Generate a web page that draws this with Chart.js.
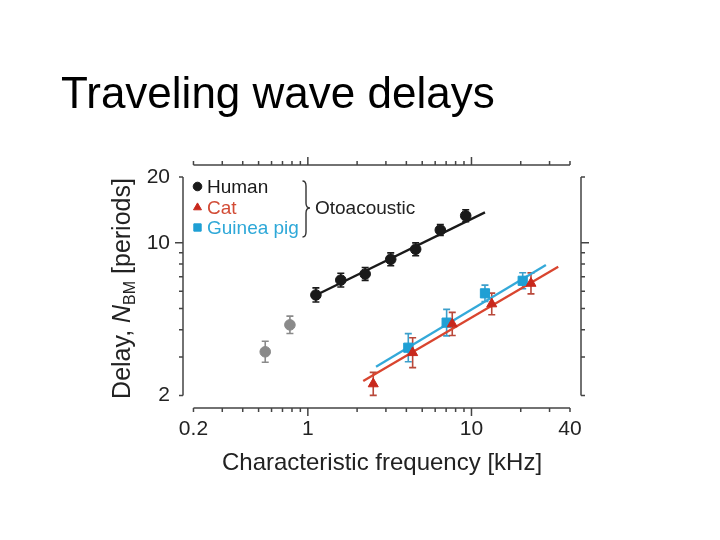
<!DOCTYPE html>
<html>
<head>
<meta charset="utf-8">
<script src="https://cdn.jsdelivr.net/npm/chart.js@4.4.1/dist/chart.umd.min.js"></script>
<style>
  html, body { margin: 0; padding: 0; background: #fff; }
  #wrap { position: relative; width: 720px; height: 540px; }
  #title {
    position: absolute; left: 61px; top: 71px; margin: 0;
    font: 44px/44px "Liberation Sans", Arial, sans-serif;
    color: #000; white-space: nowrap;
  }
  canvas { position: absolute; left: 0; top: 0; }
</style>
</head>
<body>
<div id="wrap">
  <canvas id="delayChart" width="720" height="540"></canvas>
  <div id="title">Traveling wave delays</div>
</div>
<script>
const FontName = '"Liberation Sans", Arial, sans-serif';

// Human (otoacoustic) points, kHz / periods, error = multiplicative half-width
const humanFreq = [1.12, 1.59, 2.24, 3.21, 4.56, 6.45, 9.22];
const humanDelay = [5.77, 6.75, 7.20, 8.40, 9.34, 11.44, 13.3];
const humanErr = [1.077, 1.075, 1.07, 1.07, 1.07, 1.06, 1.065];

// low-frequency human points (grey)
const lowFreq = [0.549, 0.777];
const lowDelay = [3.17, 4.21];
const lowErr = [1.117, 1.096];

const catFreq = [2.51, 4.37, 7.63, 13.3, 23.1];
const catDelay = [2.26, 3.14, 4.25, 5.25, 6.52];
const catErr = [1.129, 1.17, 1.13, 1.12, 1.117];

const pigFreq = [4.11, 7.05, 12.09, 20.56];
const pigDelay = [3.31, 4.31, 5.87, 6.70];
const pigErr = [1.16, 1.15, 1.09, 1.088];

// fitted lines (end points)
const humanFitFreq = [1.055, 12.09];
const humanFitDelay = [5.63, 13.78];
const catFitFreq = [2.18, 33.9];
const catFitDelay = [2.33, 7.77];
const pigFitFreq = [2.61, 28.5];
const pigFitDelay = [2.71, 7.91];

// axes
const xRange = [0.1726, 46.7];
const yRange = [1.753, 22.7];
const xLabelValues = [0.2, 1, 10, 40];
const yLabelValues = [2, 10, 20];
const xTickValues = [0.2, 0.3, 0.4, 0.5, 0.6, 0.7, 0.8, 0.9, 1, 2, 3, 4, 5, 6, 7, 8, 9, 10, 20, 30, 40];
const yTickValues = [2, 3, 4, 5, 6, 7, 8, 9, 10, 20];
const xMajor = [1, 10];
const yMajor = [10];

const Colors = {
    human: "#1a1a1a",
    low: "#8a8a8a",
    cat: "#c8281c",
    catLine: "#d9452f",
    catText: "#d24b35",
    pig: "#1f9fd4",
    pigLine: "#34a9d9",
    pigText: "#2ea8d8",
    axis: "#444",
    text: "#222",
};

const toPoints = (xs, ys) => xs.map((x, i) => ({ x, y: ys[i] }));

const drawErrorBars = (ctx, xs, ys, freq, delay, err, color) => {
    ctx.strokeStyle = color;
    ctx.lineWidth = 1.6;
    freq.forEach((f, i) => {
        const px = xs.getPixelForValue(f);
        const top = ys.getPixelForValue(delay[i] * err[i]);
        const bot = ys.getPixelForValue(delay[i] / err[i]);
        ctx.beginPath();
        ctx.moveTo(px, top); ctx.lineTo(px, bot);
        ctx.moveTo(px - 3.5, top); ctx.lineTo(px + 3.5, top);
        ctx.moveTo(px - 3.5, bot); ctx.lineTo(px + 3.5, bot);
        ctx.stroke();
    });
}

const errorBarPlugin = {
    id: "errorBars",
    beforeDatasetsDraw(chart) {
        const { ctx, scales: { x, y } } = chart;
        ctx.save();
        drawErrorBars(ctx, x, y, lowFreq, lowDelay, lowErr, Colors.low);
        drawErrorBars(ctx, x, y, humanFreq, humanDelay, humanErr, Colors.human);
        drawErrorBars(ctx, x, y, pigFreq, pigDelay, pigErr, "#3c9fcb");
        drawErrorBars(ctx, x, y, catFreq, catDelay, catErr, "#b9483a");
        ctx.restore();
    }
};

// axes drawn apart from each other, ticks pointing outward
const axesPlugin = {
    id: "detachedAxes",
    afterDraw(chart) {
        const { ctx, chartArea: area, scales: { x, y } } = chart;
        ctx.save();
        ctx.strokeStyle = Colors.axis;
        ctx.lineWidth = 1.5;
        ctx.beginPath();

        const x0 = x.getPixelForValue(xTickValues[0]);
        const x1 = x.getPixelForValue(xTickValues[xTickValues.length - 1]);
        const y0 = y.getPixelForValue(yTickValues[0]);
        const y1 = y.getPixelForValue(yTickValues[yTickValues.length - 1]);

        // bottom + top
        ctx.moveTo(x0, area.bottom); ctx.lineTo(x1, area.bottom);
        ctx.moveTo(x0, area.top); ctx.lineTo(x1, area.top);
        xTickValues.forEach(v => {
            const px = x.getPixelForValue(v);
            const len = xMajor.includes(v) ? 8 : 4;
            ctx.moveTo(px, area.bottom); ctx.lineTo(px, area.bottom + len);
            ctx.moveTo(px, area.top); ctx.lineTo(px, area.top - len);
        });

        // left + right
        ctx.moveTo(area.left, y0); ctx.lineTo(area.left, y1);
        ctx.moveTo(area.right, y0); ctx.lineTo(area.right, y1);
        yTickValues.forEach(v => {
            const py = y.getPixelForValue(v);
            const len = yMajor.includes(v) ? 8 : 4;
            ctx.moveTo(area.left, py); ctx.lineTo(area.left - len, py);
            ctx.moveTo(area.right, py); ctx.lineTo(area.right + len, py);
        });
        ctx.stroke();

        // y title with italic N and subscript
        const parts = [
            { text: "Delay, ", font: `25px ${FontName}`, dy: 0 },
            { text: "N", font: `italic 25px ${FontName}`, dy: 0 },
            { text: "BM", font: `16px ${FontName}`, dy: 5 },
            { text: " [periods]", font: `25px ${FontName}`, dy: 0 },
        ];
        let total = 0;
        parts.forEach(p => { ctx.font = p.font; p.w = ctx.measureText(p.text).width; total += p.w; });
        ctx.translate(130, (area.top + area.bottom) / 2 + 2);
        ctx.rotate(-Math.PI / 2);
        ctx.fillStyle = Colors.text;
        ctx.textBaseline = "alphabetic";
        let cx = -total / 2;
        parts.forEach(p => {
            ctx.font = p.font;
            ctx.fillText(p.text, cx, p.dy);
            cx += p.w;
        });
        ctx.restore();

        // legend
        ctx.save();
        const rows = [
            { label: "Human", style: "circle", r: 4.3, color: Colors.human, text: Colors.human, y: 193 },
            { label: "Cat", style: "triangle", r: 4.6, color: Colors.cat, text: Colors.catText, y: 214 },
            { label: "Guinea pig", style: "rect", r: 5.2, color: Colors.pig, text: Colors.pigText, y: 234 },
        ];
        ctx.font = `19px ${FontName}`;
        ctx.textBaseline = "alphabetic";
        rows.forEach(row => {
            ctx.fillStyle = row.color;
            ctx.strokeStyle = row.color;
            Chart.helpers.drawPoint(ctx, { pointStyle: row.style, radius: row.r, rotation: 0, borderWidth: 1 }, 197.5, row.y - 6.5);
            ctx.fillStyle = row.text;
            ctx.fillText(row.label, 207, row.y);
        });

        // brace + group label
        ctx.strokeStyle = "#333";
        ctx.lineWidth = 1.4;
        ctx.beginPath();
        ctx.moveTo(302.5, 181);
        ctx.quadraticCurveTo(306, 181, 306, 186);
        ctx.lineTo(306, 203);
        ctx.quadraticCurveTo(306, 208, 310, 208);
        ctx.quadraticCurveTo(306, 208, 306, 213);
        ctx.lineTo(306, 232);
        ctx.quadraticCurveTo(306, 237, 302.5, 237);
        ctx.stroke();
        ctx.fillStyle = Colors.text;
        ctx.fillText("Otoacoustic", 315, 214);
        ctx.restore();
    }
};

const scatterSet = (label, xs, ys, color, style, radius) => ({
    label,
    data: toPoints(xs, ys),
    pointStyle: style,
    pointRadius: radius,
    pointBackgroundColor: color,
    pointBorderColor: color,
    pointBorderWidth: 1,
    showLine: false,
});

const lineSet = (label, xs, ys, color) => ({
    label,
    data: toPoints(xs, ys),
    showLine: true,
    borderColor: color,
    borderWidth: 2.3,
    pointRadius: 0,
});

new Chart(document.getElementById("delayChart"), {
    type: "scatter",
    data: {
        datasets: [
            scatterSet("Human", humanFreq, humanDelay, Colors.human, "circle", 5.3),
            scatterSet("Human (low CF)", lowFreq, lowDelay, Colors.low, "circle", 5.3),
            scatterSet("Cat", catFreq, catDelay, Colors.cat, "triangle", 5.8),
            scatterSet("Guinea pig", pigFreq, pigDelay, Colors.pig, "rect", 6.5),
            lineSet("Human fit", humanFitFreq, humanFitDelay, Colors.human),
            lineSet("Cat fit", catFitFreq, catFitDelay, Colors.catLine),
            lineSet("Guinea pig fit", pigFitFreq, pigFitDelay, Colors.pigLine),
        ]
    },
    options: {
        responsive: false,
        animation: false,
        devicePixelRatio: 1,
        layout: { padding: { left: 123, right: 139, top: 165, bottom: 62 } },
        plugins: { legend: { display: false }, tooltip: { enabled: false } },
        scales: {
            x: {
                type: "logarithmic",
                min: xRange[0],
                max: xRange[1],
                afterBuildTicks: scale => { scale.ticks = xLabelValues.map(value => ({ value })); },
                afterFit: scale => { scale.height = 70; },
                grid: { display: false, drawTicks: false },
                border: { display: false },
                ticks: {
                    autoSkip: false, maxRotation: 0, padding: 9,
                    color: Colors.text,
                    font: { family: FontName, size: 21 },
                    callback: value => String(value),
                },
                title: {
                    display: true,
                    text: "Characteristic frequency [kHz]",
                    color: Colors.text,
                    font: { family: FontName, size: 24 },
                    padding: { top: 0, bottom: 0 },
                },
            },
            y: {
                type: "logarithmic",
                min: yRange[0],
                max: yRange[1],
                afterBuildTicks: scale => { scale.ticks = yLabelValues.map(value => ({ value })); },
                afterFit: scale => { scale.width = 60; },
                grid: { display: false, drawTicks: false },
                border: { display: false },
                ticks: {
                    autoSkip: false, padding: 13,
                    color: Colors.text,
                    font: { family: FontName, size: 21 },
                    callback: value => String(value),
                },
            },
        },
    },
    plugins: [errorBarPlugin, axesPlugin],
});
</script>
</body>
</html>
